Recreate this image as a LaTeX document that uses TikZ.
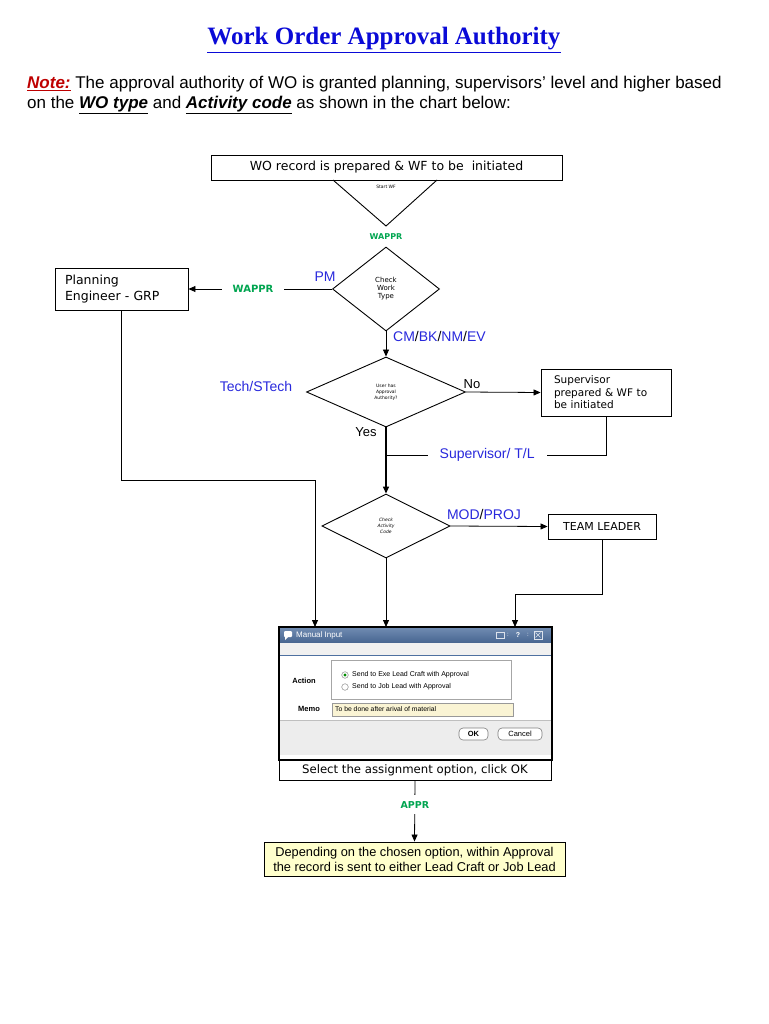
\documentclass[tikz,border=0pt]{standalone}
\usepackage{fontspec}
\setmainfont{Liberation Sans}
\newfontfamily\titlefont{Liberation Serif}
\newfontfamily\comicfont{DejaVu Sans}
\usetikzlibrary{shapes.geometric,arrows.meta,positioning}
\definecolor{titleblue}{RGB}{10,10,215}
\definecolor{notered}{RGB}{190,0,0}
\definecolor{lblblue}{RGB}{40,40,220}
\definecolor{wfgreen}{RGB}{0,165,80}
\definecolor{notefill}{RGB}{255,255,204}
\definecolor{barblue}{RGB}{78,112,160}
\definecolor{memofill}{RGB}{250,244,212}
\begin{document}
\begin{tikzpicture}[x=1pt, y=-1pt,
  box/.style={draw, line width=0.9pt, rectangle, inner sep=2pt},
  dia/.style={draw, line width=0.9pt, diamond, inner sep=0pt, align=center},
  arr/.style={-{Triangle[length=7pt,width=6pt]}, line width=0.8pt},
  ln/.style={line width=0.8pt},
  bluelab/.style={text=lblblue, font=\fontsize{14}{16}\selectfont},
  blacklab/.style={font=\fontsize{13}{15}\selectfont},
  wf/.style={text=wfgreen, font=\comicfont\bfseries\fontsize{8}{9}\selectfont}
]
\useasboundingbox (0,0) rectangle (768,1024);

% --- heading and note ---
\node[text=titleblue, font=\titlefont\bfseries\fontsize{25}{30}\selectfont] (title) at (384,40)
  {\underline{Work Order Approval Authority}};
\node[anchor=north west, align=left, inner sep=0pt, font=\fontsize{17}{19.5}\selectfont] (note) at (27,76)
  {\textcolor{notered}{\textbf{\textit{\underline{Note:}}}} The approval authority of WO is granted planning, supervisors' level and higher based\\
   on the \textbf{\textit{\underline{WO type}}} and \textbf{\textit{\underline{Activity code}}} as shown in the chart below:};

% --- start ---
\node[box, minimum width=351pt, minimum height=25pt, font=\comicfont\fontsize{12.5}{14}\selectfont] (start) at (386.5,167.5)
  {WO record is prepared \& WF to be~ initiated};
\coordinate (apex) at (386,226);
\draw[line width=0.9pt] (333,180) -- (apex) -- (437,180);
\node[font=\comicfont\fontsize{4.5}{5}\selectfont] (startwf) at (386,187) {Start WF};
\node[wf] (wappr) at (386,237) {WAPPR};

% --- decisions ---
\node[dia, minimum width=107pt, minimum height=84pt, font=\comicfont\fontsize{7}{8}\selectfont] (chk) at (386,289)
  {Check\\Work\\Type};
\node[dia, minimum width=159pt, minimum height=70pt, font=\comicfont\fontsize{4.5}{6}\selectfont] (auth) at (386,392)
  {User has\\Approval\\Authority?};
\node[dia, minimum width=128pt, minimum height=64pt, font=\comicfont\itshape\fontsize{4.5}{6}\selectfont] (code) at (386,526)
  {Check\\Activity\\Code};

% --- side boxes ---
\node[box, minimum width=133pt, minimum height=42pt, text width=113pt, align=left, font=\comicfont\fontsize{12.5}{16}\selectfont] (plan) at (121.5,289)
  {Planning\\Engineer - GRP};
\node[box, minimum width=130pt, minimum height=47pt, text width=104pt, align=left, font=\comicfont\fontsize{10.5}{12.5}\selectfont] (sup) at (606,392.5)
  {Supervisor\\prepared \& WF to\\be initiated};
\node[box, minimum width=108pt, minimum height=25pt, font=\comicfont\fontsize{11}{12}\selectfont] (tl) at (602,526.5)
  {TEAM LEADER};

% --- labels ---
\node[bluelab] (pm) at (325,277) {PM};
\node[bluelab, anchor=west, inner sep=0pt] (cm) at (393,336) {CM\textcolor{black}{/}BK\textcolor{black}{/}NM\textcolor{black}{/}EV};
\node[bluelab] (tech) at (256,386) {Tech/STech};
\node[blacklab] (no) at (472,384) {No};
\node[blacklab] (yes) at (366,432) {Yes};
\node[bluelab] (mod) at (484,514) {MOD\textcolor{black}{/}PROJ};

% --- input window (screen shot) ---
\shade[top color=barblue!80!white, bottom color=barblue!90!black] (279,627) rectangle (552,643);
\fill[white, rounded corners=1pt] (284,631) rectangle (292,637);
\fill[white] (285,637) -- (285,640) -- (288,637) -- cycle;
\node[anchor=west, text=white, font=\fontsize{8}{9}\selectfont, inner sep=0pt] (wtitle) at (296,635) {Manual Input};
\draw[white!80!barblue, line width=0.6pt] (496,632) rectangle (504,638);
\node[text=white, font=\bfseries\fontsize{7}{8}\selectfont, inner sep=0pt] (whelp) at (518,635) {?};
\node[text=white, font=\fontsize{6}{7}\selectfont, inner sep=0pt] (wsep1) at (508,635) {:};
\node[text=white, font=\fontsize{6}{7}\selectfont, inner sep=0pt] (wsep2) at (528,635) {:};
\draw[white!80!barblue, line width=0.6pt] (534,631) rectangle (542,639);
\draw[white!80!barblue, line width=0.5pt] (535.5,632.5) -- (540.5,637.5) (535.5,637.5) -- (540.5,632.5);
\fill[black!6] (279,643) rectangle (552,655);
\draw[barblue, line width=0.8pt] (279,655) -- (552,655);
\draw[black!35, line width=0.6pt] (331,660) rectangle (511,699);
\draw[black!45, line width=0.5pt] (345,675) circle (3.3pt);
\fill[green!55!black] (345,675) circle (1.6pt);
\draw[black!45, line width=0.5pt] (345,687) circle (3.3pt);
\node[anchor=west, inner sep=0pt, font=\fontsize{7}{8}\selectfont] (opt1) at (352,675) {Send to Exe Lead Craft with Approval};
\node[anchor=west, inner sep=0pt, font=\fontsize{7}{8}\selectfont] (opt2) at (352,687) {Send to Job Lead with Approval};
\node[font=\bfseries\fontsize{7.5}{8}\selectfont, inner sep=0pt] (action) at (304,681) {Action};
\node[font=\bfseries\fontsize{7.5}{8}\selectfont, inner sep=0pt] (memo) at (309,709) {Memo};
\draw[black!40, fill=memofill, line width=0.5pt] (332,703) rectangle (513,716);
\node[anchor=west, inner sep=0pt, font=\fontsize{6.8}{7}\selectfont] (memotxt) at (335,709.5) {To be done after arival of material};
\fill[black!7] (279,720) rectangle (552,755);
\draw[black!25, line width=0.5pt] (279,720) -- (552,720);
\draw[black!50, fill=white, rounded corners=4pt, line width=0.6pt] (459,728) rectangle (488,740);
\node[font=\bfseries\fontsize{7.5}{8}\selectfont, inner sep=0pt] (okbtn) at (473.5,734) {OK};
\draw[black!50, fill=white, rounded corners=4pt, line width=0.6pt] (498,728) rectangle (542,740);
\node[font=\fontsize{7.5}{8}\selectfont, inner sep=0pt] (cancelbtn) at (520,734) {Cancel};
\node[draw, line width=1.2pt, minimum width=273pt, minimum height=133pt, inner sep=0pt] (win) at (415.5,693.5) {};
\coordinate (in1) at (315,627);
\coordinate (in2) at (386,627);
\coordinate (in3) at (515,627);

\node[box, minimum width=272pt, minimum height=20pt, font=\comicfont\fontsize{11.7}{13}\selectfont] (sel) at (415,770)
  {Select the assignment option, click OK};
\node[box, fill=notefill, minimum width=301pt, minimum height=34pt, align=center, font=\fontsize{12.8}{15}\selectfont] (dep) at (414.5,859)
  {Depending on the chosen option, within Approval\\the record is sent to either Lead Craft or Job Lead};

% --- connectors ---
\coordinate (join) at (386,455);
\coordinate (bendp) at (121.5,480);
\coordinate (bendt) at (602,594);
\draw[arr] (chk.west) -- node[wf, font=\comicfont\bfseries\fontsize{10}{11}\selectfont, pos=0.55, fill=white, inner xsep=11pt] {WAPPR} (plan.east);
\draw[arr] (chk.south) -- (auth.north);
\draw[arr] (auth.east) -- (sup.west);
\draw[ln] (sup.south) |- node[bluelab, pos=0.77, fill=white, inner xsep=12pt] {Supervisor/ T/L} (join);
\draw[arr, line width=1.4pt] (auth.south) -- (code.north);
\draw[arr] (code.east) -- (tl.west);
\draw[arr] (code.south) -- (in2);
\draw[arr] (plan.south) -- (bendp) -| (in1);
\draw[arr] (tl.south) -- (bendt) -| (in3);
\draw[arr] (sel.south) -- node[wf, font=\comicfont\bfseries\fontsize{9.5}{10}\selectfont, pos=0.4, fill=white, inner ysep=6pt] {APPR} (dep.north);
\end{tikzpicture}
\end{document}
